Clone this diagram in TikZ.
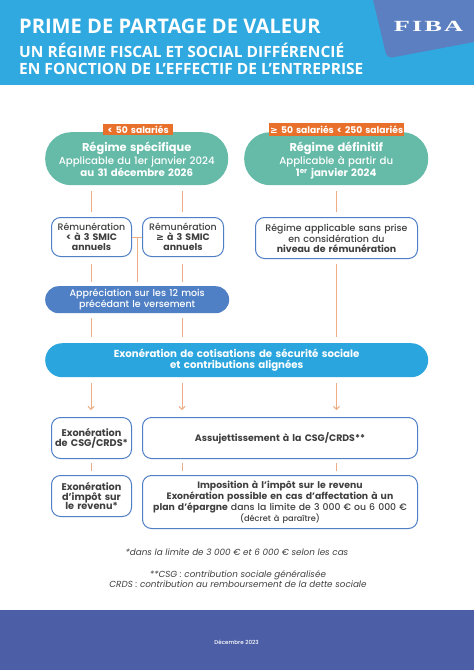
\documentclass[tikz,border=0pt]{standalone}
\usepackage{fontspec}
\setmainfont{Poppins Medium}[BoldFont=Poppins Bold,ItalicFont=Poppins Italic]
\newfontfamily\titlefont{Open Sans}
\newfontfamily\logofont[FakeStretch=1.7,LetterSpace=14]{Liberation Serif}
\newfontfamily\symfont{DejaVu Sans}
\usetikzlibrary{arrows.meta}
\definecolor{headblue}{HTML}{2FA9E0}
\definecolor{tabblue}{HTML}{5B7FC0}
\definecolor{pillgreen}{HTML}{66BBA8}
\definecolor{tagorange}{HTML}{E8702A}
\definecolor{midblue}{HTML}{4F7FC4}
\definecolor{bigblue}{HTML}{2AA5DE}
\definecolor{footblue}{HTML}{4C5FA6}
\definecolor{linkor}{HTML}{EDAE85}
\definecolor{bodytext}{HTML}{3F3F3F}
\newcommand{\fs}[2]{\fontsize{#1}{#2}\selectfont}
\newcommand{\gesym}{{\symfont ≥}}
\newcommand{\pillstrut}{\rule[-3pt]{0pt}{3pt}}
\tikzset{
  x=1pt,y=-1pt,
  pill/.style={rounded corners=#1,inner sep=0pt,align=center,text=white,anchor=north west},
  tag/.style={fill=tagorange,text=white,inner sep=0pt,align=center,font=\fs{9.2}{10}\bfseries,anchor=north west},
  bluebox/.style={draw=midblue,line width=1pt,fill=white,rounded corners=9pt,inner sep=0pt,align=center,text=bodytext,anchor=north west,font=\fs{9.4}{9.8}},
  link/.style={draw=linkor,line width=1pt},
  arrowlink/.style={draw=linkor,line width=1pt,-{Straight Barb[length=3pt,width=6pt]}},
  note/.style={text=bodytext,inner sep=0pt,align=center,font=\fs{8.8}{9.7}\itshape},
  headtext/.style={text=white,inner sep=0pt,anchor=west,font=\titlefont\bfseries},
}
\newcommand{\sizedbox}[6]{% style, name, x0, y0, x1, y1 -- text follows
  \node[#1,minimum width=#5pt-#3pt,minimum height=#6pt-#4pt,text width=#5pt-#3pt] (#2) at (#3,#4)}
\begin{document}
\begin{tikzpicture}
\useasboundingbox (0,0) rectangle (474,670);
\fill[white] (0,0) rectangle (474,670);
% header
\fill[headblue] (0,0) rectangle (474,85);
\fill[tabblue] (373,0) -- (474,0) -- (474,42) -- (392,57.5) to[out=175,in=-70] (386,54) -- cycle;
\node[text=white,inner sep=0pt,font=\logofont\bfseries\fs{15.5}{16}] (logo) at (428.5,26) {FIBA};
\node[headtext,font=\titlefont\bfseries\fs{20.1}{22}] (title) at (19,26) {PRIME DE PARTAGE DE VALEUR};
\node[headtext,font=\titlefont\bfseries\fs{15.5}{16}] (subone) at (19,50) {UN RÉGIME FISCAL ET SOCIAL DIFFÉRENCIÉ};
\node[headtext,font=\titlefont\bfseries\fs{15.5}{16}] (subtwo) at (19,68.5) {EN FONCTION DE L’EFFECTIF DE L’ENTREPRISE};
% green pills
\sizedbox{pill=26pt,fill=pillgreen}{pillL}{45}{132}{228}{185}{\fs{10.2}{13}{\fs{11.4}{13}\bfseries\rule{0pt}{14pt}Régime spécifique}\\Applicable du 1er janvier 2024\\\bfseries au 31 décembre 2026\pillstrut};
\sizedbox{pill=26pt,fill=pillgreen}{pillR}{244}{132}{428}{185}{\fs{10.2}{13}{\fs{11.4}{13}\bfseries\rule{0pt}{14pt}Régime définitif}\\Applicable à partir du\\\bfseries 1\textsuperscript{er} janvier 2024\pillstrut};
\sizedbox{tag}{tagL}{103}{124}{173}{135}{< 50 salariés};
\sizedbox{tag}{tagR}{269}{123}{404}{136}{\gesym{} 50 salariés < 250 salariés};
% boxes row 1
\sizedbox{bluebox}{remL}{51}{217}{131}{256}{Rémunération\\\bfseries < à 3 SMIC\\\bfseries annuels};
\sizedbox{bluebox}{remR}{142}{217}{223}{256}{Rémunération\\\bfseries \gesym{} à 3 SMIC\\\bfseries annuels};
\sizedbox{bluebox}{remD}{255}{217}{417}{258}{Régime applicable sans prise\\en considération du\\\bfseries niveau de rémunération};
% blue pills
\sizedbox{pill=13.5pt,fill=midblue,font=\fs{9.5}{9.8}}{appr}{45}{286}{229}{313}{Appréciation sur les 12 mois\\précédant le versement};
\sizedbox{pill=17pt,fill=bigblue,font=\fs{10.2}{11}\bfseries}{exo}{45}{343}{428}{377}{Exonération de cotisations de sécurité sociale\\et contributions alignées};
% boxes row 2
\sizedbox{bluebox,font=\fs{9.7}{9.8}\bfseries}{csg}{51}{417}{131}{458}{Exonération\\de CSG/CRDS*};
\sizedbox{bluebox,font=\fs{9.4}{9.8}\bfseries}{assu}{142}{417}{417}{458}{Assujettissement à la CSG/CRDS**};
\sizedbox{bluebox,font=\fs{9.7}{9.8}\bfseries}{impL}{51}{475}{131}{516}{Exonération\\d’impôt sur\\le revenu*};
\sizedbox{bluebox,font=\fs{9.3}{11}}{impR}{142}{475}{417}{528}{{\bfseries Imposition à l’impôt sur le revenu}\\{\bfseries Exonération possible en cas d’affectation à un}\\{\bfseries plan d’épargne} dans la limite de 3 000 € ou 6 000 €\\{\fs{8.2}{11}(décret à paraître)}};
% connectors
\coordinate (xa) at (91,0);
\coordinate (xb) at (182,0);
\coordinate (xc) at (336.5,0);
\coordinate (xj) at (137,0);
\draw[link,shorten <=6pt,shorten >=5pt] (xa |- pillL.south) -- (xa |- remL.north);
\draw[link,shorten <=6pt,shorten >=5pt] (xb |- pillL.south) -- (xb |- remR.north);
\draw[link,shorten <=6pt,shorten >=5pt] (xc |- pillR.south) -- (xc |- remD.north);
\draw[link,line width=.8pt] (remL.east) -- (remR.west);
\draw[link,line width=.8pt,shorten >=4pt] (xj |- remL.east) -- (xj |- appr.north);
\draw[link,shorten <=7pt,shorten >=4pt] (xa |- remL.south) -- (xa |- appr.north);
\draw[link,shorten <=7pt,shorten >=4pt] (xb |- remR.south) -- (xb |- appr.north);
\draw[link,shorten <=5pt,shorten >=6pt] (xa |- appr.south) -- (xa |- exo.north);
\draw[link,shorten <=5pt,shorten >=6pt] (xb |- appr.south) -- (xb |- exo.north);
\draw[link,shorten <=5pt,shorten >=6pt] (xc |- remD.south) -- (xc |- exo.north);
\draw[arrowlink,shorten <=6pt,shorten >=7pt] (xa |- exo.south) -- (xa |- csg.north);
\draw[arrowlink,shorten <=6pt,shorten >=7pt] (xb |- exo.south) -- (xb |- assu.north);
\draw[arrowlink,shorten <=6pt,shorten >=7pt] (xc |- exo.south) -- (xc |- assu.north);
\draw[link,shorten <=4pt,shorten >=4pt] (xa |- csg.south) -- (xa |- impL.north);
\draw[link,shorten <=4pt,shorten >=4pt] (xb |- assu.south) -- (xb |- impR.north);
\draw[link,shorten <=4pt,shorten >=4pt] (xc |- assu.south) -- (xc |- impR.north);
% notes
\node[note] (noteA) at (237,552) {*dans la limite de 3 000 € et 6 000 € selon les cas};
\node[note] (noteB) at (238,579) {**CSG : contribution sociale généralisée\\CRDS : contribution au remboursement de la dette sociale};
% footer
\fill[footblue] (0,610) rectangle (474,670);
\node[text=white,inner sep=0pt,font=\fs{5.6}{6}] (date) at (236.5,642) {Décembre 2023};
\end{tikzpicture}
\end{document}
